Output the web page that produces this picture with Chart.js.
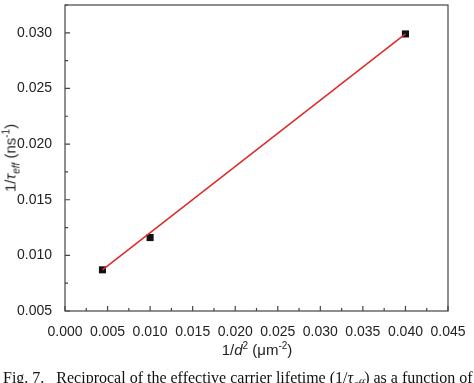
<!DOCTYPE html>
<html>
<head>
<meta charset="utf-8">
<script src="https://cdn.jsdelivr.net/npm/chart.js@4.4.1/dist/chart.umd.min.js"></script>
<style>
  html, body { margin: 0; padding: 0; background: #fff; }
  #wrap { position: relative; width: 474px; height: 383px; overflow: hidden; }
  #c { position: absolute; left: 0; top: 0; }
  .lbl { position: absolute; font-family: "Liberation Sans", Arial, sans-serif; color: #222; white-space: nowrap; line-height: 1; }
  .lbl sub, .lbl sup { font-size: 10px; line-height: 0; }
  #ytitle { font-size: 15px; left: 10px; top: 158px; transform: translate(-50%, -50%) rotate(-90deg); }
  #xtitle { font-size: 15px; left: 257px; top: 349px; transform: translate(-50%, -50%); }
  #caption { position: absolute; left: 3px; top: 369px; font-family: "Liberation Serif", "Times New Roman", serif; font-size: 16px; color: #111; white-space: nowrap; }
  #caption sub { font-size: 11px; }
</style>
</head>
<body>
<div id="wrap">
  <canvas id="c" width="474" height="383"></canvas>
  <div class="lbl" id="ytitle">1/<i>τ</i><sub><i>eff</i></sub> (ns<sup>-1</sup>)</div>
  <div class="lbl" id="xtitle">1/<i>d</i><sup>2</sup> (μm<sup>-2</sup>)</div>
  <div id="caption">Fig. 7.&nbsp;&nbsp;&nbsp;Reciprocal of the effective carrier lifetime (1/<i>τ</i><sub><i>eff</i></sub>) as a function of</div>
</div>
<script>
// measured points
const invD2 = [0.0044, 0.0100, 0.0400];
const invTau = [0.0087, 0.0116, 0.0299];

// linear fit end points
const fitX = [0.0044, 0.0400];
const fitY = [0.0087, 0.0299];

const xTicks = [0.000, 0.005, 0.010, 0.015, 0.020, 0.025, 0.030, 0.035, 0.040, 0.045];
const yTicks = [0.005, 0.010, 0.015, 0.020, 0.025, 0.030];

// inward ticks + frame, drawn from the scales
const frame = {
    id: 'frame',
    afterDraw(chart) {
        const ctx = chart.ctx;
        const a = chart.chartArea;
        const xs = chart.scales.x, ys = chart.scales.y;
        ctx.save();
        ctx.strokeStyle = '#444';
        ctx.lineWidth = 1.2;
        ctx.strokeRect(a.left, a.top, a.right - a.left, a.bottom - a.top);
        ctx.beginPath();
        for (let i = 0; i < xTicks.length; i++) {
            let px = xs.getPixelForValue(xTicks[i]);
            ctx.moveTo(px, a.bottom); ctx.lineTo(px, a.bottom - 5);
            if (i < xTicks.length - 1) {
                let m = xs.getPixelForValue((xTicks[i] + xTicks[i + 1]) / 2);
                ctx.moveTo(m, a.bottom); ctx.lineTo(m, a.bottom - 3);
            }
        }
        for (let i = 0; i < yTicks.length; i++) {
            let py = ys.getPixelForValue(yTicks[i]);
            ctx.moveTo(a.left, py); ctx.lineTo(a.left + 5, py);
            let m = ys.getPixelForValue(yTicks[i] + 0.0025);
            ctx.moveTo(a.left, m); ctx.lineTo(a.left + 3, m);
        }
        ctx.stroke();
        ctx.restore();
    }
};

new Chart(document.getElementById('c'), {
    type: 'scatter',
    data: {
        datasets: [{
            type: 'line',
            data: fitX.map((x, i) => ({x: x, y: fitY[i]})),
            borderColor: '#e02828',
            borderWidth: 1.5,
            pointRadius: 0,
            fill: false
        }, {
            data: invD2.map((x, i) => ({x: x, y: invTau[i]})),
            backgroundColor: '#111',
            borderColor: '#111',
            pointStyle: 'rect',
            pointRadius: 5,
            borderWidth: 0
        }]
    },
    options: {
        responsive: false,
        animation: false,
        layout: { padding: { top: 4, right: 26, left: 0, bottom: 0 } },
        plugins: { legend: { display: false }, tooltip: { enabled: false } },
        scales: {
            x: {
                type: 'linear',
                min: 0, max: 0.045,
                afterBuildTicks: s => { s.ticks = xTicks.map(v => ({value: v})); },
                afterFit: s => { s.height = 72; s.paddingLeft = 0; s.paddingRight = 0; },
                grid: { display: false },
                border: { display: false },
                ticks: {
                    color: '#222',
                    padding: 5,
                    maxRotation: 0,
                    autoSkip: false,
                    font: { family: 'Liberation Sans', size: 14 },
                    callback: v => v.toFixed(3)
                }
            },
            y: {
                type: 'linear',
                min: 0.005, max: 0.0325,
                afterBuildTicks: s => { s.ticks = yTicks.map(v => ({value: v})); },
                afterFit: s => { s.width = 65; s.paddingTop = 0; s.paddingBottom = 0; },
                grid: { display: false },
                border: { display: false },
                ticks: {
                    color: '#222',
                    padding: 5,
                    font: { family: 'Liberation Sans', size: 14 },
                    callback: v => v.toFixed(3)
                }
            }
        }
    },
    plugins: [frame]
});
</script>
</body>
</html>
